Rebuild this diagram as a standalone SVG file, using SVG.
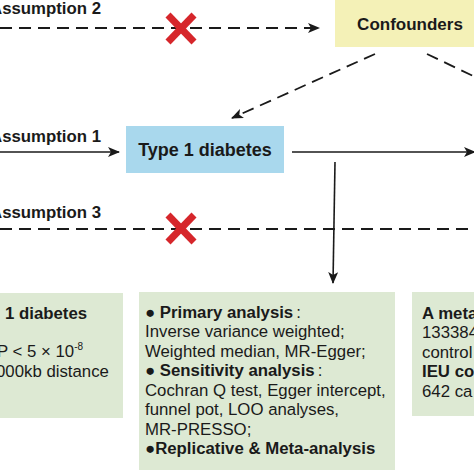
<svg xmlns="http://www.w3.org/2000/svg" width="474" height="474" viewBox="0 0 474 474">
<defs>
<marker id="ah" markerUnits="userSpaceOnUse" markerWidth="12" markerHeight="10" viewBox="0 0 12 10" refX="11" refY="5" orient="auto">
<path d="M0,0 L12,5 L0,10 L3,5 z" fill="#1a1a1a"/>
</marker>
<style>
.t{font-family:"Liberation Sans",Arial,sans-serif;fill:#1a1a1a;font-size:16.8px}
.b{font-weight:bold}
.solid{stroke:#1a1a1a;stroke-width:1.6;fill:none}
.dash{stroke:#1a1a1a;stroke-width:1.8;fill:none;stroke-dasharray:12 7}
.x{stroke:#d6262b;stroke-width:7;stroke-linecap:butt}
.green{fill:#dde9d3}
</style>
</defs>
<rect width="474" height="474" fill="#ffffff"/>

<g id="labels">
<text class="t b" x="101" y="14" text-anchor="end">Assumption 2</text>
<text class="t b" x="101" y="142" text-anchor="end">Assumption 1</text>
<text class="t b" x="101" y="218" text-anchor="end">Assumption 3</text>
</g>

<g id="confounders">
<rect x="335" y="-5" width="145" height="52" fill="#f4f1b7"/>
<text class="t b" x="410" y="30" text-anchor="middle" style="font-size:17px">Confounders</text>
</g>

<g id="type1">
<rect x="126" y="126" width="158" height="47" fill="#a9d8ed"/>
<text class="t b" x="205" y="156" text-anchor="middle" style="font-size:18px">Type 1 diabetes</text>
</g>

<g id="connectors">
<line class="dash" x1="0" y1="28" x2="319" y2="28" marker-end="url(#ah)"/>
<line class="dash" x1="375" y1="54" x2="232" y2="118" marker-end="url(#ah)"/>
<line class="dash" x1="427" y1="54" x2="492" y2="85"/>
<line class="solid" x1="0" y1="152" x2="119" y2="152" marker-end="url(#ah)"/>
<line class="solid" x1="292" y1="152" x2="475" y2="152" marker-end="url(#ah)"/>
<line class="solid" x1="335" y1="162" x2="333" y2="283" marker-end="url(#ah)"/>
<line class="dash" x1="0" y1="229" x2="480" y2="229"/>
</g>

<g id="cross1">
<line class="x" x1="168" y1="15" x2="194" y2="42"/>
<line class="x" x1="194" y1="15" x2="168" y2="42"/>
</g>
<g id="cross2">
<line class="x" x1="168" y1="215" x2="194" y2="242"/>
<line class="x" x1="194" y1="215" x2="168" y2="242"/>
</g>

<g id="box-left">
<rect class="green" x="-10" y="293" width="133" height="125"/>
<text class="t b" x="5" y="319">1 diabetes</text>
<text class="t" x="-3" y="357">P &lt; 5 × 10<tspan font-size="10" dy="-7">-8</tspan></text>
<text class="t" x="-4" y="377">000kb distance</text>
</g>

<g id="box-middle">
<rect class="green" x="139" y="292" width="256" height="178"/>
<text class="t" x="145" y="318"><tspan class="b">● Primary analysis</tspan><tspan dx="3">:</tspan></text>
<text class="t" x="145" y="337">Inverse variance weighted;</text>
<text class="t" x="145" y="357">Weighted median, MR-Egger;</text>
<text class="t" x="145" y="376"><tspan class="b">● Sensitivity analysis</tspan><tspan dx="3">:</tspan></text>
<text class="t" x="145" y="396">Cochran Q test, Egger intercept,</text>
<text class="t" x="145" y="415">funnel pot, LOO analyses,</text>
<text class="t" x="145" y="435">MR-PRESSO;</text>
<text class="t b" x="145" y="454">●Replicative &amp; Meta-analysis</text>
</g>

<g id="box-right">
<rect class="green" x="412" y="292" width="70" height="124"/>
<text class="t b" x="422" y="319">A meta</text>
<text class="t" x="422" y="338">133384</text>
<text class="t" x="422" y="358">control</text>
<text class="t b" x="422" y="377">IEU co</text>
<text class="t" x="422" y="397">642 ca</text>
</g>
</svg>
